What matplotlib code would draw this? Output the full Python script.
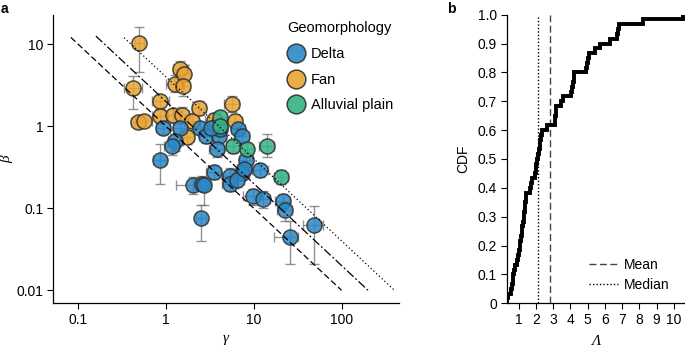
import numpy as np
import matplotlib
matplotlib.use("Agg")
import matplotlib.pyplot as plt
from matplotlib.lines import Line2D

plt.rcParams['font.family'] = ['Liberation Sans', 'DejaVu Sans']

# ---------------- Panel a data ----------------
delta_gamma = [0.94, 1.46, 1.28, 1.17, 0.85, 2.45, 2.9, 4.0, 3.8, 3.5, 6.7, 7.3, 8.2, 7.3, 5.4, 5.4,
               2.06, 2.56, 2.7, 6.4, 9.9, 12.9, 11.8, 21.4, 22.7, 48.5, 25.9, 2.52, 4.1, 3.3, 7.8]
delta_beta = [0.95, 0.95, 0.65, 0.575, 0.39, 0.95, 0.75, 0.75, 0.52, 0.28, 0.92, 0.75, 0.39, 0.27, 0.25, 0.20,
              0.19, 0.20, 0.19, 0.22, 0.139, 0.129, 0.29, 0.124, 0.094, 0.063, 0.044, 0.075, 0.92, 0.95, 0.30]
delta_gamma_lo = [0.78, 1.20, 1.05, 0.95, 0.72, 2.05, 2.4, 3.3, 3.1, 2.9, 5.5, 6.0, 6.8, 6.0, 4.4, 4.4,
                  1.30, 2.10, 2.2, 5.2, 7.5, 10.5, 9.5, 17.5, 18.5, 36.0, 17.0, 2.2, 3.4, 2.7, 6.4]
delta_gamma_hi = [1.12, 1.75, 1.55, 1.40, 1.00, 2.90, 3.4, 4.8, 4.6, 4.2, 8.0, 8.8, 9.8, 8.8, 6.6, 6.6,
                  2.60, 3.10, 3.3, 7.8, 12.5, 15.5, 14.5, 26.0, 27.5, 62.0, 32.0, 2.9, 4.9, 4.0, 9.4]
delta_beta_lo = [0.80, 0.80, 0.50, 0.45, 0.20, 0.80, 0.62, 0.62, 0.42, 0.23, 0.77, 0.62, 0.32, 0.22, 0.20, 0.16,
                 0.15, 0.16, 0.11, 0.18, 0.11, 0.10, 0.24, 0.10, 0.07, 0.021, 0.021, 0.04, 0.77, 0.80, 0.25]
delta_beta_hi = [1.12, 1.15, 0.80, 0.70, 0.60, 1.12, 0.90, 0.90, 0.64, 0.34, 1.10, 0.90, 0.47, 0.33, 0.31, 0.25,
                 0.24, 0.25, 0.24, 0.27, 0.17, 0.16, 0.35, 0.15, 0.12, 0.105, 0.07, 0.11, 1.10, 1.12, 0.36]

fan_gamma = [0.50, 0.42, 0.48, 0.56, 0.86, 0.86, 1.2, 1.28, 1.46, 1.59, 1.56, 1.52, 1.97, 1.73, 2.39, 5.6, 3.5, 6.1]
fan_beta = [10.3, 2.9, 1.11, 1.17, 2.0, 1.34, 1.35, 3.3, 4.9, 4.3, 3.1, 1.37, 1.14, 0.73, 1.66, 1.87, 1.19, 1.14]
fan_gamma_lo = [0.45, 0.33, 0.40, 0.45, 0.70, 0.70, 1.0, 1.0, 1.2, 1.3, 1.3, 1.25, 1.6, 1.4, 2.0, 4.6, 2.8, 5.0]
fan_gamma_hi = [0.56, 0.54, 0.60, 0.70, 1.10, 1.05, 1.5, 1.6, 1.8, 1.9, 1.9, 1.85, 2.4, 2.1, 2.9, 6.8, 4.3, 7.4]
fan_beta_lo = [4.6, 1.6, 0.95, 1.0, 1.6, 1.1, 1.1, 2.6, 3.8, 3.5, 2.3, 1.1, 0.95, 0.6, 1.35, 1.5, 1.0, 0.95]
fan_beta_hi = [16.0, 4.1, 1.3, 1.35, 2.4, 1.6, 1.6, 4.2, 6.3, 5.5, 3.9, 1.7, 1.4, 0.9, 2.0, 2.3, 1.45, 1.4]

alluvial_gamma = [4.1, 4.1, 5.8, 8.3, 14.0, 20.4]
alluvial_beta = [1.29, 1.0, 0.565, 0.52, 0.565, 0.243]
alluvial_gamma_lo = [3.4, 3.4, 4.8, 6.9, 11.5, 17.0]
alluvial_gamma_hi = [4.9, 4.9, 7.0, 9.9, 17.0, 24.5]
alluvial_beta_lo = [1.08, 0.84, 0.47, 0.43, 0.42, 0.20]
alluvial_beta_hi = [1.52, 1.18, 0.67, 0.62, 0.80, 0.29]

group_names = ['Delta', 'Fan', 'Alluvial plain']
group_colors = ['#2a88c6', '#e9a431', '#35b283']

# reference lines: beta * gamma = const
line_consts = [1.0, 2.0, 4.0]
line_gamma_start = [0.083, 0.16, 0.335]
line_styles = [(0, (5, 2.5)), (0, (7, 2, 1.5, 2)), (0, (1, 2))]

# ---------------- Panel b data ----------------
lam_values = [0.33, 0.41, 0.55, 0.63, 0.66, 0.69, 0.72, 0.81, 0.89, 0.96,
              1.02, 1.08, 1.11, 1.14, 1.17, 1.20, 1.25, 1.30, 1.34, 1.37,
              1.39, 1.42, 1.44, 1.69, 1.73, 1.76, 1.97, 2.00, 2.03, 2.09,
              2.15, 2.19, 2.23, 2.27, 2.30, 2.34, 2.64, 3.10, 3.13, 3.16,
              3.18, 3.45, 3.55, 4.05, 4.10, 4.15, 4.19, 4.23, 4.90, 4.98,
              5.05, 5.10, 5.45, 5.71, 6.29, 6.72, 6.77, 6.83, 8.21, 10.55]

fig = plt.figure(figsize=(6.85, 3.47), dpi=100)

# ---------------- Panel a ----------------
ax = fig.add_axes([0.0774, 0.1268, 0.505, 0.830])
ax.set_xscale('log')
ax.set_yscale('log')

groups = [
    (fan_gamma, fan_beta, fan_gamma_lo, fan_gamma_hi, fan_beta_lo, fan_beta_hi, group_colors[1]),
    (delta_gamma, delta_beta, delta_gamma_lo, delta_gamma_hi, delta_beta_lo, delta_beta_hi, group_colors[0]),
    (alluvial_gamma, alluvial_beta, alluvial_gamma_lo, alluvial_gamma_hi, alluvial_beta_lo, alluvial_beta_hi, group_colors[2]),
]
for g, b, glo, ghi, blo, bhi, col in groups:
    g = np.array(g); b = np.array(b)
    xerr = [g - np.array(glo), np.array(ghi) - g]
    yerr = [b - np.array(blo), np.array(bhi) - b]
    ax.errorbar(g, b, xerr=xerr, yerr=yerr, fmt='none', ecolor='#777777', elinewidth=1.0,
                capsize=3.8, capthick=1.0, alpha=0.8, zorder=2)
for g, b, glo, ghi, blo, bhi, col in groups:
    ax.scatter(g, b, s=118, facecolor=col, edgecolor='#303030', linewidth=1.1, alpha=0.85, zorder=3)

for c, gs, ls in zip(line_consts, line_gamma_start, line_styles):
    gg = np.array([gs, c / 0.01])
    ax.plot(gg, c / gg, color='black', lw=0.9, linestyle=ls, zorder=4)

ax.set_xlim(0.052, 450)
ax.set_ylim(0.007, 22.6)
ax.set_xticks([0.1, 1, 10, 100])
ax.set_xticklabels(['0.1', '1', '10', '100'])
ax.set_yticks([0.01, 0.1, 1, 10])
ax.set_yticklabels(['0.01', '0.1', '1', '10'])
ax.minorticks_off()
ax.tick_params(labelsize=10, length=4, width=0.8, direction='out', colors='black', pad=3)
for s in ['top', 'right']:
    ax.spines[s].set_visible(False)
for s in ['left', 'bottom']:
    ax.spines[s].set_linewidth(0.9)
ax.set_xlabel('γ', fontsize=11, fontstyle='italic', family=['Liberation Serif', 'DejaVu Serif'], labelpad=4)
ax.set_ylabel('β', fontsize=11, fontstyle='italic', family=['Liberation Serif', 'DejaVu Serif'], labelpad=2)

handles = [Line2D([0], [0], marker='o', linestyle='none', markersize=13.5, markerfacecolor=c,
                  markeredgecolor='#303030', markeredgewidth=1.1, alpha=0.9) for c in group_colors]
leg = ax.legend(handles, group_names, title='Geomorphology', loc='upper left',
                bbox_to_anchor=(0.655, 1.003), frameon=False, fontsize=10.5, title_fontsize=10.5,
                labelspacing=0.8, handletextpad=0.45, borderpad=0.0, handlelength=1.2,
                alignment='left')

fig.text(0.001, 0.995, 'a', fontsize=10, fontweight='bold', va='top', ha='left')

# ---------------- Panel b ----------------
bx = fig.add_axes([0.7397, 0.126, 0.2603, 0.8317])
lam = np.sort(np.array(lam_values))
n = len(lam)
cdf = np.arange(1, n + 1) / n
xs = np.concatenate([[lam[0]], lam])
ys = np.concatenate([[0.0], cdf])
bx.step(xs, ys, where='post', color='black', lw=2.8, solid_joinstyle='miter', zorder=3)
bx.plot([lam[-1], 12], [1.0, 1.0], color='black', lw=2.8, zorder=3)

mean_val = np.mean(lam)
median_val = np.median(lam)
bx.axvline(mean_val, color='#444444', lw=1.0, linestyle=(0, (5, 2.5)), label='Mean')
bx.axvline(median_val, color='black', lw=1.0, linestyle=(0, (1, 1.5)), label='Median')

bx.set_xlim(0.31, 10.65)
bx.set_ylim(0, 1.0)
bx.set_xticks(range(1, 11))
bx.set_yticks(np.round(np.arange(0, 1.01, 0.1), 1))
bx.set_yticklabels(['0'] + [f'{v:.1f}' for v in np.arange(0.1, 1.01, 0.1)])
bx.tick_params(labelsize=10, length=4, width=0.8, direction='out', pad=3)
for s in ['top', 'right']:
    bx.spines[s].set_visible(False)
for s in ['left', 'bottom']:
    bx.spines[s].set_linewidth(0.9)
bx.set_ylabel('CDF', fontsize=10, labelpad=5)
bx.set_xlabel('Λ', fontsize=11, fontstyle='italic', family=['Liberation Serif', 'DejaVu Serif'], labelpad=6)
bx.legend(loc='lower right', bbox_to_anchor=(0.975, 0.0), frameon=False, fontsize=10,
          handlelength=2.1, handletextpad=0.4, labelspacing=0.45, borderpad=0.3)

fig.text(0.653, 0.995, 'b', fontsize=10, fontweight='bold', va='top', ha='left')

fig.savefig('out.png', dpi=100)
